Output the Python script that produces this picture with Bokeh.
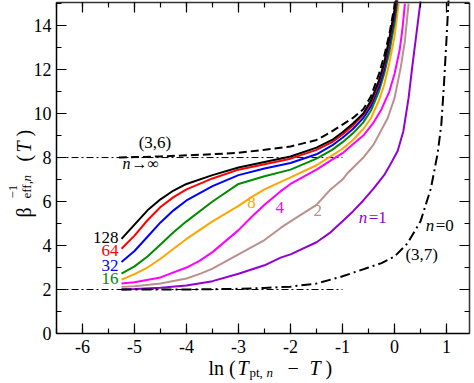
from bokeh.plotting import figure
from bokeh.models import Label, LinearAxis, SingleIntervalTicker
from bokeh.embed import file_html
from bokeh.resources import INLINE
import math

# ---------------- data ----------------
x_inf = [-5.3, -5.0, -4.5, -4.0, -3.5, -3.0, -2.5, -2.0, -1.5, -1.23, -1.0, -0.8, -0.6, -0.45, -0.3, -0.2, -0.1, 0.0, 0.03]
y_inf = [8.0, 8.02, 8.05, 8.1, 8.15, 8.22, 8.35, 8.5, 8.8, 9.15, 9.5, 9.8, 10.2, 10.8, 11.8, 12.6, 13.6, 14.9, 15.3]

x_common = [-5.25, -5.0, -4.75, -4.5, -4.25, -4.0, -3.5, -3.0, -2.5, -2.0, -1.5, -1.2, -1.0, -0.8, -0.6, -0.45, -0.3, -0.2, -0.1, 0.0]
x_128 = x_common + [0.03]
y_128 = [4.3, 4.95, 5.6, 6.1, 6.5, 6.8, 7.2, 7.55, 7.8, 8.05, 8.45, 8.8, 9.15, 9.55, 10.0, 10.6, 11.5, 12.3, 13.4, 14.7, 15.2]
x_64 = x_common + [0.04]
y_64 = [3.85, 4.45, 5.15, 5.75, 6.2, 6.55, 7.05, 7.45, 7.7, 7.95, 8.35, 8.7, 9.05, 9.45, 9.95, 10.5, 11.4, 12.2, 13.3, 14.6, 15.2]
x_32 = x_common + [0.05]
y_32 = [3.25, 3.75, 4.4, 5.05, 5.6, 6.05, 6.7, 7.2, 7.5, 7.75, 8.15, 8.55, 8.9, 9.3, 9.8, 10.35, 11.2, 12.0, 13.1, 14.4, 15.2]
x_16 = x_common + [0.06]
y_16 = [2.72, 3.05, 3.5, 4.05, 4.6, 5.1, 6.0, 6.8, 7.15, 7.45, 7.95, 8.35, 8.7, 9.1, 9.6, 10.15, 11.0, 11.8, 12.8, 14.1, 15.2]
x_8 = [-5.25, -5.0, -4.75, -4.5, -4.25, -4.0, -3.75, -3.5, -3.0, -2.75, -2.5, -2.0, -1.5, -1.23, -1.0, -0.8, -0.6, -0.45, -0.3, -0.2, -0.1, 0.0, 0.08]
y_8 = [2.45, 2.7, 3.0, 3.4, 3.85, 4.3, 4.7, 5.1, 5.8, 6.2, 6.55, 7.1, 7.65, 8.05, 8.4, 8.8, 9.3, 9.8, 10.6, 11.3, 12.3, 13.5, 15.0]
x_4 = [-5.25, -5.0, -4.5, -4.0, -3.75, -3.5, -3.0, -2.75, -2.5, -2.2, -2.0, -1.5, -1.23, -1.0, -0.8, -0.6, -0.4, -0.25, -0.1, 0.0, 0.1, 0.15, 0.2]
y_4 = [2.27, 2.33, 2.55, 3.0, 3.3, 3.7, 4.7, 5.3, 5.85, 6.45, 6.8, 7.45, 7.86, 8.2, 8.6, 9.0, 9.6, 10.2, 11.0, 11.8, 12.9, 13.8, 15.0]
x_2 = [-5.25, -5.0, -4.5, -4.0, -3.73, -3.5, -3.0, -2.5, -2.19, -2.0, -1.5, -1.23, -1.0, -0.9, -0.6, -0.4, -0.13, 0.0, 0.12, 0.2, 0.27]
y_2 = [2.12, 2.15, 2.27, 2.5, 2.72, 2.95, 3.6, 4.25, 4.8, 5.1, 5.85, 6.55, 7.0, 7.3, 8.0, 8.6, 9.8, 10.7, 12.1, 13.3, 15.0]
x_1 = [-5.25, -5.0, -4.5, -4.0, -3.5, -3.0, -2.5, -2.19, -2.0, -1.5, -1.23, -1.0, -0.8, -0.6, -0.4, -0.2, -0.1, 0.06, 0.17, 0.27, 0.34, 0.42, 0.5]
y_1 = [2.0, 2.02, 2.08, 2.18, 2.38, 2.72, 3.1, 3.45, 3.6, 4.15, 4.6, 5.1, 5.55, 6.05, 6.6, 7.2, 7.6, 8.3, 9.2, 10.7, 12.1, 13.6, 15.1]
x_0 = [-5.25, -4.0, -3.0, -2.5, -2.0, -1.5, -1.0, -0.5, -0.25, 0.0, 0.25, 0.5, 0.7, 0.83, 0.9, 0.95, 1.0, 1.04]
y_0 = [2.0, 2.0, 2.03, 2.07, 2.13, 2.27, 2.6, 3.0, 3.2, 3.5, 4.1, 5.1, 6.6, 8.2, 9.5, 11.3, 13.4, 15.2]

ref_x = [-6.5, -1.0]
ref_lo = [2.0, 2.0]
ref_hi = [8.0, 8.0]

x_ticks = [-6, -5, -4, -3, -2, -1, 0, 1]

series = [
    (x_128, y_128, "black"),
    (x_64, y_64, "#ff0000"),
    (x_32, y_32, "#0000ff"),
    (x_16, y_16, "#008b00"),
    (x_8, y_8, "#ffa500"),
    (x_4, y_4, "#ff00ff"),
    (x_2, y_2, "#bc8f8f"),
    (x_1, y_1, "#9400d3"),
]

FONT = "'Liberation Serif', serif"

# ---------------- geometry ----------------
W, H = 474, 383
BL, BR, BT, BB = 56, 469, 2, 333        # page position of the axes box
X0, X1 = -6.5, 1.442                    # axes box data limits
Y0, Y1 = 0.0, 15.05
SX = (BR - BL) / (X1 - X0)
SY = (BB - BT) / (Y1 - Y0)


def xpg(px):
    return X0 + (px - BL) / SX


def ypg(py):
    return Y0 + (BB - py) / SY


# the plot frame spans the whole canvas; the axes box is drawn by four axes
p = figure(width=W, height=H, x_range=(xpg(0), xpg(W)), y_range=(ypg(H), ypg(0)),
           output_backend="svg", toolbar_location=None, min_border=0)
p.grid.visible = False
p.outline_line_color = None

xa = p.xaxis[0]
ya = p.yaxis[0]
xa.fixed_location = Y0
xa.bounds = (X0, X1)
ya.fixed_location = X0
ya.bounds = (Y0, Y1)
xa.ticker = SingleIntervalTicker(interval=1, num_minor_ticks=2)
ya.ticker = SingleIntervalTicker(interval=2, num_minor_ticks=2)
xa.major_label_overrides = {t: str(t) for t in x_ticks}

top = LinearAxis(ticker=SingleIntervalTicker(interval=1, num_minor_ticks=2),
                 fixed_location=Y1, bounds=(X0, X1))
top.major_label_overrides = {t: "" for t in range(-8, 4)}
right = LinearAxis(ticker=SingleIntervalTicker(interval=2, num_minor_ticks=2),
                   fixed_location=X1, bounds=(Y0, Y1))
right.major_label_overrides = {t: "" for t in range(-2, 20, 2)}
p.add_layout(top, "above")
p.add_layout(right, "right")

for ax in [xa, ya, top, right]:
    ax.major_tick_in = 10
    ax.major_tick_out = 0
    ax.minor_tick_in = 5
    ax.minor_tick_out = 0
    ax.axis_line_width = 1.5
    ax.axis_line_color = "black"
    ax.major_tick_line_width = 1.2
    ax.minor_tick_line_width = 1.2
    ax.major_label_text_font = FONT
    ax.major_label_text_color = "black"
    ax.major_label_text_font_size = "18px"
top.major_label_text_font_size = "1px"
right.major_label_text_font_size = "1px"
top.axis_line_color = "#333333"
right.axis_line_color = "#333333"
xa.major_label_standoff = 6
ya.major_label_standoff = 5

p.line(ref_x, ref_lo, line_color="black", line_width=1, line_dash="7 3 2 3")
p.line(ref_x, ref_hi, line_color="black", line_width=1, line_dash="7 3 2 3")

for xs, ys, c in reversed(series):
    p.line(xs, ys, line_color=c, line_width=2)

p.line(x_inf, y_inf, line_color="black", line_width=2, line_dash="8 4")
p.line(x_0, y_0, line_color="black", line_width=2, line_dash="10 4 2 4")

SHIFT = 5  # baseline correction in screen px


def lab(x, y, text, size="17px", color="black", style="normal", align="left", angle=0.0, xo=0, yo=0):
    if angle:
        xo -= SHIFT - 1
    else:
        yo += SHIFT
    p.add_layout(Label(x=x, y=y, text=text, text_font=FONT, text_font_size=size,
                       text_color=color, text_font_style=style, text_align=align,
                       text_baseline="alphabetic", angle=angle, x_offset=xo, y_offset=yo))


# curve labels (data coordinates)
lab(-5.31, 4.14, "128", color="black", align="right")
lab(-5.31, 3.55, "64", color="#ff0000", align="right")
lab(-5.31, 2.86, "32", color="#0000ff", align="right")
lab(-5.31, 2.27, "16", color="#008b00", align="right")
lab(-2.83, 5.73, "8", color="#ffa500")
lab(-2.29, 5.5, "4", color="#ff00ff")
lab(-1.56, 5.36, "2", color="#bc8f8f")
lab(-0.69, 5.05, "n", color="#9400d3", style="italic")
lab(-0.69, 5.05, "=1", color="#9400d3", xo=10)
lab(0.6, 4.68, "n", style="italic")
lab(0.6, 4.68, "=0", xo=10)
lab(0.21, 3.36, "(3,7)")
lab(-4.92, 8.45, "(3,6)")
lab(-5.23, 7.5, "n", style="italic", size="16px")
lab(-5.23, 7.5, "\u2192\u221e", size="16px", xo=9)

# x-axis title: ln (T_pt,n - T)
lab(xpg(208), ypg(372), "ln (", size="20px")
lab(xpg(237), ypg(372), "T", size="20px", style="italic")
lab(xpg(249), ypg(377), "pt,", size="13px")
lab(xpg(266), ypg(377), "n", size="13px", style="italic")
lab(xpg(287), ypg(372), "\u2212", size="20px")
lab(xpg(309), ypg(372), "T", size="20px", style="italic")
lab(xpg(325), ypg(372), ")", size="20px")

# y-axis title: beta^-1_eff,n (T), rotated
A = math.pi / 2
lab(xpg(27), ypg(217), "\u03b2", size="20px", angle=A)
lab(xpg(16), ypg(198), "\u22121", size="13px", angle=A)
lab(xpg(30), ypg(198), "eff,", size="13px", angle=A)
lab(xpg(30), ypg(181), "n", size="13px", style="italic", angle=A)
lab(xpg(27), ypg(161), "(", size="20px", angle=A)
lab(xpg(27), ypg(152), "T", size="20px", style="italic", angle=A)
lab(xpg(27), ypg(136), ")", size="20px", angle=A)

open("out.html", "w").write(file_html(p, INLINE))
